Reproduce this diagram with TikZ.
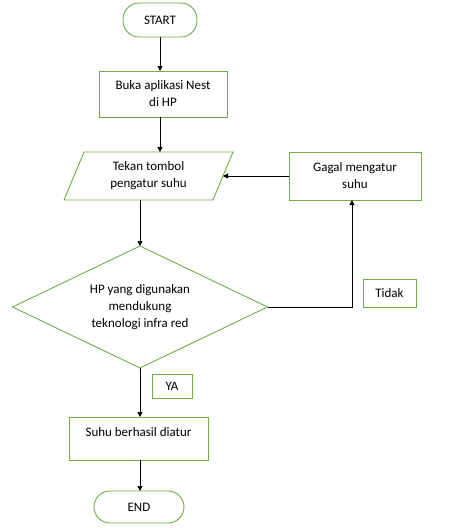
\documentclass[tikz,border=0pt]{standalone}
\usepackage{fontspec}
\setmainfont{Carlito}
\usetikzlibrary{shapes.geometric,arrows.meta}
\definecolor{og}{HTML}{70AD47}
\begin{document}
\begin{tikzpicture}[x=1pt,y=-1pt,
  every node/.style={font=\fontsize{13}{17}\selectfont, align=center, inner sep=0pt, outer sep=0pt},
  gbox/.style={draw=og, line width=0.9pt, rectangle},
  term/.style={gbox, rounded corners=16pt},
  para/.style={draw=og, line width=0.9pt, trapezium, trapezium left angle=54.7, trapezium right angle=125.3, trapezium stretches body=true},
  dec/.style={draw=og, line width=0.9pt, diamond, aspect=2.09},
  arr/.style={-{Triangle[length=5pt,width=5pt]}, line width=0.8pt, black}]
\useasboundingbox[fill=white] (0,0) rectangle (448,528);
\node[term, minimum width=74pt, minimum height=34pt] (start) at (160,20) {START};
\node[gbox, minimum width=128pt, minimum height=46pt] (buka) at (163,94) {Buka aplikasi Nest\\di HP};
\node[para, minimum width=169pt, minimum height=48pt] (par) at (148.5,176) {Tekan tombol\\pengatur suhu};
\node[gbox, minimum width=132pt, minimum height=48pt] (gagal) at (355,176) {Gagal mengatur\\suhu};
\node[dec, minimum width=255pt, minimum height=122pt] (hp) at (140,307) {HP yang digunakan\\mendukung\\teknologi infra red};
\node[gbox, minimum width=53pt, minimum height=28pt] (tidak) at (389.5,293) {Tidak};
\node[gbox, minimum width=40pt, minimum height=24pt] (ya) at (172,386) {YA};
\node[gbox, minimum width=139pt, minimum height=43pt] (suhu) at (138.5,438.5) {Suhu berhasil diatur\\[-4pt]\mbox{}};
\node[term, minimum width=90pt, minimum height=32pt] (end) at (139,507) {END};
\draw[arr] (start.south) -- (start.south |- buka.north);
\draw[arr] (buka.south -| start.south) -- (start.south |- par.north);
\draw[arr] (par.south -| hp.north) -- (hp.north);
\draw[arr] (gagal.west) -- (gagal.west -| par.east);
\draw[arr] (hp.east) -| ([xshift=-3pt]gagal.south);
\draw[arr] (hp.south) -- (hp.south |- suhu.north);
\draw[arr] (suhu.south -| hp.south) -- (hp.south |- end.north);
\end{tikzpicture}
\end{document}
